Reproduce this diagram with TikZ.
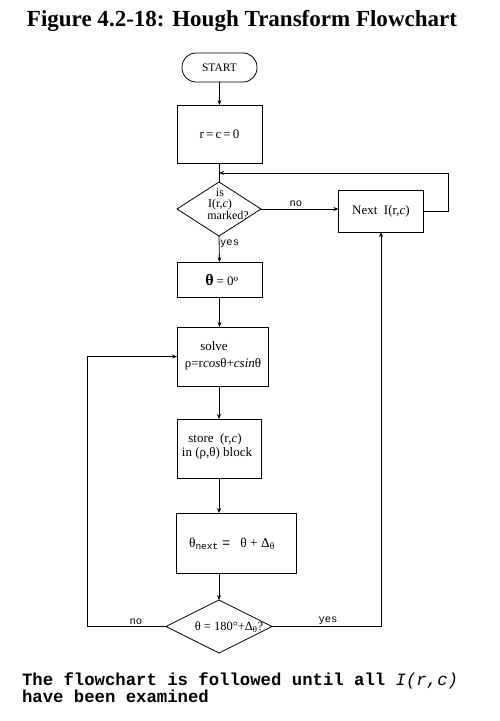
\documentclass[tikz,border=0pt]{standalone}
\usepackage{fontspec}
\setmainfont{Liberation Serif}
\newfontfamily\mono{Liberation Mono}
\usetikzlibrary{shapes.geometric,arrows.meta}
\begin{document}
\begin{tikzpicture}[x=1pt,y=-1pt,
  every node/.style={inner sep=0pt,outer sep=0pt},
  box/.style={draw,rectangle,line width=0.8pt},
  term/.style={draw,rectangle,rounded corners=14pt,line width=0.8pt},
  decision/.style={draw,diamond,line width=0.8pt},
  arr/.style={line width=0.8pt,-{Stealth[length=5pt,width=4pt]}},
  ln/.style={line width=0.8pt},
  txt/.style={font=\fontsize{11.5}{12}\selectfont,align=center},
  lab/.style={font=\mono\fontsize{10.5}{11}\selectfont}]
\useasboundingbox (0,0) rectangle (499,721);
% title
\node[anchor=base] (title) at (242,26.5) {\resizebox{430pt}{!}{\bfseries Figure 4.2-18: Hough Transform Flowchart}};
% nodes
\node[term,minimum width=75pt,minimum height=29pt] (start) at (219.5,67.5) {};
\node[txt] at (start) {START};
\node[box,minimum width=85pt,minimum height=58pt] (init) at (219.5,134) {};
\node[txt,font=\fontsize{13}{13}\selectfont] at (init) {r\,=\,c\,=\,0};
\node[decision,minimum width=84pt,minimum height=54pt] (d1) at (219,209) {};
\node[txt,font=\fontsize{12}{11.5}\selectfont] at (220,204) {is\\I(r,\textit{c})\hspace*{18pt}\\\hspace*{16pt}marked?};
\node[box,minimum width=85pt,minimum height=42pt] (next) at (381,211) {};
\node[txt,font=\fontsize{13}{13}\selectfont] at (next) {Next~ I(r,\textit{c})};
\node[box,minimum width=85pt,minimum height=35pt] (theta0) at (219.5,279.5) {};
\node[txt] at (222,280) {{\fontsize{16}{16}\selectfont\bfseries θ} {\fontsize{13}{13}\selectfont = 0\textsuperscript{o}}};
\node[box,minimum width=91pt,minimum height=59pt] (solve) at (222.5,356.5) {};
\node[txt,font=\fontsize{13}{17}\selectfont] at (223,356) {\hspace*{-18pt}solve\\ρ=r\textit{cos}θ+\textit{csin}θ};
\node[box,minimum width=84pt,minimum height=59pt] (store) at (219,448.5) {};
\node[txt,font=\fontsize{13}{14}\selectfont] at (217,446) {\hspace*{-4pt}store~ (r,\textit{c})\\in (ρ,θ) block};
\node[box,minimum width=120pt,minimum height=60pt] (tnext) at (236,543) {};
\node[txt,font=\fontsize{13.5}{14}\selectfont] at (232,544) {θ\textsubscript{\mono next} {\mono =}~~ θ + Δ\textsubscript{θ}};
\node[decision,minimum width=106pt,minimum height=53pt] (d2) at (219,626.5) {};
\node[txt,font=\fontsize{12.5}{13}\selectfont] at (229,627) {θ = 180°+Δ\textsubscript{θ}?};
% connectors
\draw[arr] (start.south) -- (init.north);
\draw[ln] (init.south) -- (init.south |- d1.north);
\coordinate (fbr) at (448,173);
\draw[arr] (next.east) -| (fbr) -- (fbr -| d1.north);
\draw[arr] (d1.east) -- (d1.east -| next.west) node[lab,pos=0.45,above=2pt] {no};
\draw[arr] (d1.south) -- (theta0.north) node[lab,pos=0.3,right=1pt] {yes};
\draw[arr] (theta0.south) -- (theta0.south |- solve.north);
\draw[arr] (store.north |- solve.south) -- (store.north);
\draw[arr] (store.south) -- (store.south |- tnext.north);
\draw[arr] (d2.north |- tnext.south) -- (d2.north);
\coordinate (lc) at (87,356.5);
\draw[arr] (d2.west) -| (lc) -- (solve.west);
\node[lab] at (136,622) {no};
\draw[arr] (d2.east) -| (next.south);
\node[lab] at (328,621) {yes};
% bottom note
\node[anchor=base west,font=\mono\bfseries\fontsize{17.3}{17}\selectfont] (note1) at (22,685) {The flowchart is followed until all {\mdseries\itshape I(r,c)}};
\node[anchor=base west,font=\mono\bfseries\fontsize{17.3}{17}\selectfont] (note2) at (22,702) {have been examined};
\end{tikzpicture}
\end{document}
